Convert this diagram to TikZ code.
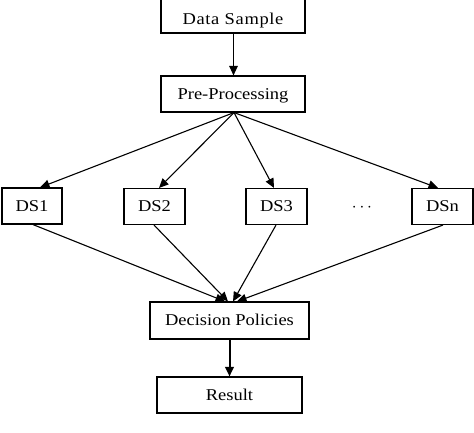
\documentclass[tikz,border=0pt]{standalone}
\usepackage{fontspec}
\setmainfont{Liberation Serif}[FakeStretch=1.12]
\usetikzlibrary{arrows.meta,calc}
\begin{document}
\begin{tikzpicture}[x=1bp,y=-1bp,
  box/.style={draw=black,line width=1.1bp,inner sep=0pt,text height=10.9bp,text depth=0pt,
    font=\fontsize{16.5bp}{19bp}\selectfont},
  arr/.style={line width=1.1bp,-{Triangle[length=9.5bp,width=8.5bp]}},
  ln/.style={line width=1bp}]
\useasboundingbox (0,0) rectangle (474,432);
\node[box,minimum width=144bp,minimum height=38bp,text height=25bp,text depth=5bp] (data) at (233,14) {\addfontfeature{LetterSpace=4}Data Sample};
\node[box,minimum width=144bp,minimum height=36bp] (pre) at (233,94) {Pre-Processing};
\node[box,minimum width=60bp,minimum height=36bp] (ds1) at (32,206) {DS1};
\node[box,minimum width=61bp,minimum height=36bp] (ds2) at (154.5,206.5) {DS2};
\node[box,minimum width=61bp,minimum height=36bp] (ds3) at (276.5,206.5) {DS3};
\node[font=\fontsize{16.2bp}{19bp}\selectfont,inner sep=0pt] (dots) at (362,208) {$\cdots$};
\node[box,minimum width=61bp,minimum height=36bp] (dsn) at (442.5,206.5) {DSn};
\node[box,minimum width=159bp,minimum height=37bp] (dec) at (229.5,320.5) {Decision Policies};
\node[box,minimum width=145bp,minimum height=36bp] (res) at (229.5,395) {Result};
\draw[arr] ($(data.south)+(0.5,0)$) -- ($(pre.north)+(0.5,0)$);
\coordinate (fan) at ($(pre.south)+(1,0)$);
\draw[arr] (fan) -- ($(ds1.north)+(8,0)$);
\draw[arr] (fan) -- ($(ds2.north)+(4.5,0)$);
\draw[arr] (fan) -- ($(ds3.north)+(-2.5,0)$);
\draw[arr] (fan) -- ($(dsn.north)+(-4.5,0)$);
\draw[arr] ($(ds1.south)+(1,0)$) -- ($(dec.north)+(-4.5,0)$);
\draw[arr] ($(ds2.south)+(-0.5,0)$) -- ($(dec.north)+(-1.5,0)$);
\draw[arr] ($(ds3.south)+(-0.5,0)$) -- ($(dec.north)+(3.5,0)$);
\draw[arr] ($(dsn.south)+(0.5,0)$) -- ($(dec.north)+(7.5,0)$);
\draw[arr,line width=2bp] (dec.south) -- (res.north);
\end{tikzpicture}
\end{document}
